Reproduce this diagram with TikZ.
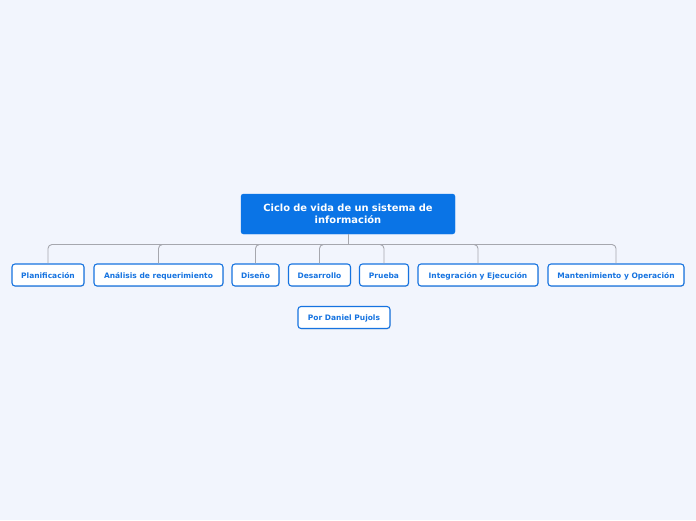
\documentclass[tikz,border=0pt]{standalone}
\usepackage{fontspec}
\setmainfont{DejaVu Sans}
\usetikzlibrary{shadows}
\definecolor{bg}{HTML}{F2F5FD}
\definecolor{rootblue}{HTML}{0A74E6}
\definecolor{childblue}{HTML}{1673E0}
\definecolor{linegray}{HTML}{A6A7AE}
\tikzset{
  rootbox/.style={draw=rootblue, fill=rootblue, rounded corners=2.5pt, text=white,
    font=\bfseries\fontsize{9.9}{11.5}\selectfont, align=center, inner sep=0pt,
    minimum width=214pt, minimum height=40pt, text width=206pt},
  childbox/.style={draw=childblue, line width=1.1pt, fill=white, rounded corners=3pt,
    text=childblue, font=\bfseries\fontsize{7.5}{8}\selectfont, inner sep=0pt,
    text height=6.6pt, text depth=0.6pt,
    minimum height=22pt, drop shadow={shadow xshift=0.6pt, shadow yshift=-0.8pt, opacity=0.25}},
  conn/.style={draw=linegray, line width=0.9pt, rounded corners=4pt}
}
\begin{document}
\begin{tikzpicture}[x=1pt,y=-1pt]
\fill[bg] (0,0) rectangle (696,520);
\useasboundingbox (0,0) rectangle (696,520);
\node[rootbox] (root) at (348,214) {Ciclo de vida de un sistema de\\información};
\coordinate (hub) at (348,244.5);
\node[childbox, minimum width=72pt] (c1) at (48,275) {Planificación};
\node[childbox, minimum width=129pt] (c2) at (158.5,275) {Análisis de requerimiento};
\node[childbox, minimum width=47pt] (c3) at (255.5,275) {Diseño};
\node[childbox, minimum width=62pt] (c4) at (319.5,275) {Desarrollo};
\node[childbox, minimum width=49pt] (c5) at (384,275) {Prueba};
\node[childbox, minimum width=120pt] (c6) at (478,275) {Integración y Ejecución};
\node[childbox, minimum width=136pt] (c7) at (616,275) {Mantenimiento y Operación};
\node[childbox, minimum width=92pt] (c8) at (344,317.5) {Por Daniel Pujols};
\draw[conn] (root.south) -- (hub);
\foreach \c in {c1,c2,c3,c4,c5,c6,c7}{
  \draw[conn] (hub) -| (\c.north);
}
\end{tikzpicture}
\end{document}
